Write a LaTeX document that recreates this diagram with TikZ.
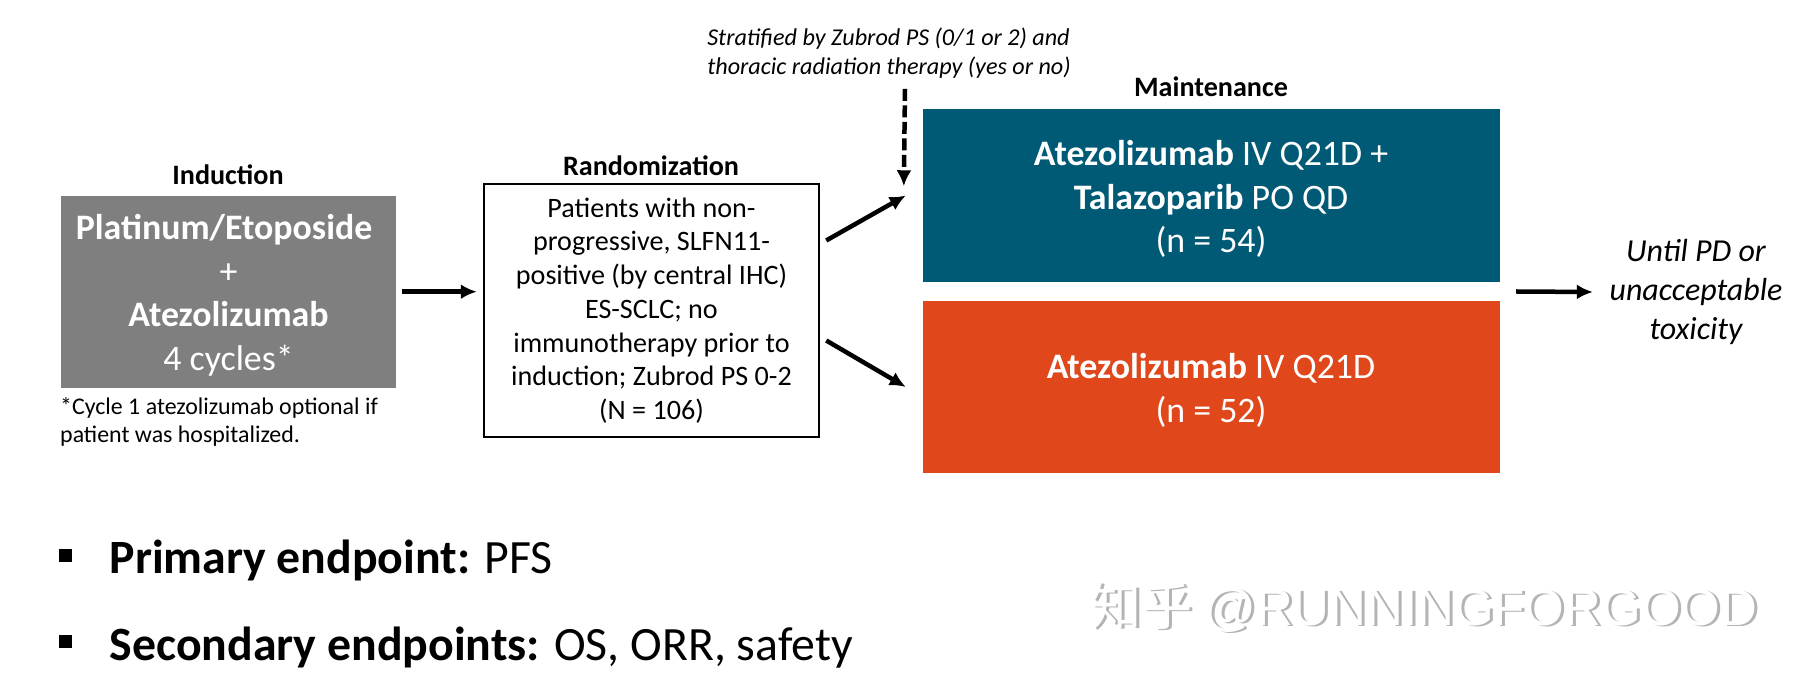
\documentclass[tikz,border=0pt]{standalone}
\usepackage{fontspec}
\setmainfont{Carlito}
\newfontfamily\cjkfont{Noto Sans CJK SC}
\newfontfamily\markfont{Liberation Sans}
\usetikzlibrary{calc,arrows.meta}
\definecolor{indgray}{HTML}{7F7F7F}
\definecolor{armteal}{HTML}{005A75}
\definecolor{armorange}{HTML}{E0481C}
\definecolor{markgray}{HTML}{B4B4B4}
\newcommand{\armtop}{\rule{0pt}{9.2pt}}
\tikzset{
    armbox/.style={inner sep=0pt, text=white, align=center, font=\fontsize{10.2}{12.4}\selectfont},
    heading/.style={inner sep=0pt, font=\fontsize{8}{9.5}\selectfont\bfseries},
    note/.style={inner sep=0pt, align=left, font=\fontsize{6.8}{8.2}\selectfont},
    flow/.style={line width=0.045cm, -{Latex[length=0.16cm,width=0.15cm]}},
    endpoint/.style={inner sep=0pt, anchor=base west, font=\fontsize{13.6}{15}\selectfont},
    bullet/.style={fill=black, inner sep=0pt, minimum size=0.13cm},
}
\begin{document}
\begin{tikzpicture}
    \useasboundingbox (0,0) rectangle (18.03,6.81);

    % boxes
    \node[armbox, fill=indgray, minimum width=3.35cm, minimum height=1.92cm] (ind) at (2.285,3.893)
        {\armtop\textbf{Platinum/Etoposide}\hspace*{0.09cm}\\+\\\textbf{Atezolizumab}\\4 cycles*};
    \node[draw, line width=0.025cm, inner sep=0pt, align=center, minimum width=3.35cm, minimum height=2.53cm,
        font=\fontsize{8}{9.6}\selectfont] (rand) at (6.515,3.705)
        {Patients with non-\\progressive, SLFN11-\\positive (by central IHC)\\ES-SCLC; no\\immunotherapy prior to\\induction; Zubrod PS 0-2\\(N = 106)};
    \node[armbox, fill=armteal, minimum width=5.77cm, minimum height=1.73cm] (teal) at (12.11,4.855)
        {\armtop\textbf{Atezolizumab} IV Q21D +\\\textbf{Talazoparib} PO QD\\(n = 54)};
    \node[armbox, fill=armorange, minimum width=5.77cm, minimum height=1.72cm] (orange) at (12.11,2.94)
        {\armtop\textbf{Atezolizumab} IV Q21D\\(n = 52)};

    % labels
    \node[heading] (indlabel) at (2.28,5.06) {Induction};
    \node[heading] (randlabel) at (6.51,5.155) {Randomization};
    \node[heading] (mainlabel) at (12.11,5.94) {Maintenance};
    \node[note, anchor=west] (foot) at (0.595,2.59) {*Cycle 1 atezolizumab optional if\\patient was hospitalized.};
    \node[note, font=\fontsize{6.87}{8.2}\selectfont\itshape] (strat) at (8.89,6.28)
        {Stratified by Zubrod PS (0/1 or 2) and\\thoracic radiation therapy (yes or no)};
    \node[inner sep=0pt, align=center, font=\fontsize{9.1}{11}\selectfont\itshape] (until) at (16.96,3.89)
        {Until PD or\\unacceptable\\toxicity};

    % arrows
    \draw[flow] ([xshift=0.05cm]ind.east) -- ([xshift=-0.06cm]ind.east -| rand.west);
    \draw[flow] ([xshift=0.06cm,yshift=0.7cm]rand.east) -- ([xshift=-0.16cm]teal.west);
    \draw[flow] ([xshift=0.06cm,yshift=-0.3cm]rand.east) -- ([xshift=-0.16cm]orange.west);
    \draw[flow] ([xshift=0.16cm]$(teal.south east)!0.5!(orange.north east)$) -- ([xshift=-0.16cm]until.west);
    \draw[flow, dash pattern=on 0.12cm off 0.045cm] ([xshift=0.16cm,yshift=-0.1cm]strat.south) -- ([xshift=-0.18cm,yshift=-0.78cm]teal.north west);

    % endpoints
    \node[bullet] (bulletA) at (0.655,1.25) {};
    \node[bullet] (bulletB) at (0.655,0.39) {};
    \node[endpoint] (primary) at (1.09,1.07) {\textbf{Primary endpoint:} PFS};
    \node[endpoint] (secondary) at (1.09,0.2) {\textbf{Secondary endpoints:} OS, ORR, safety};

    % watermark
    \node[inner sep=0pt, text=markgray, font=\fontsize{14.5}{16}\selectfont] (markback) at (14.27,0.72)
        {{\cjkfont 知乎} {\markfont @RUNNINGFORGOOD}};
    \node[inner sep=0pt, text=white, font=\fontsize{14.5}{16}\selectfont] (markfront) at (14.24,0.735)
        {{\cjkfont 知乎} {\markfont @RUNNINGFORGOOD}};
\end{tikzpicture}
\end{document}
